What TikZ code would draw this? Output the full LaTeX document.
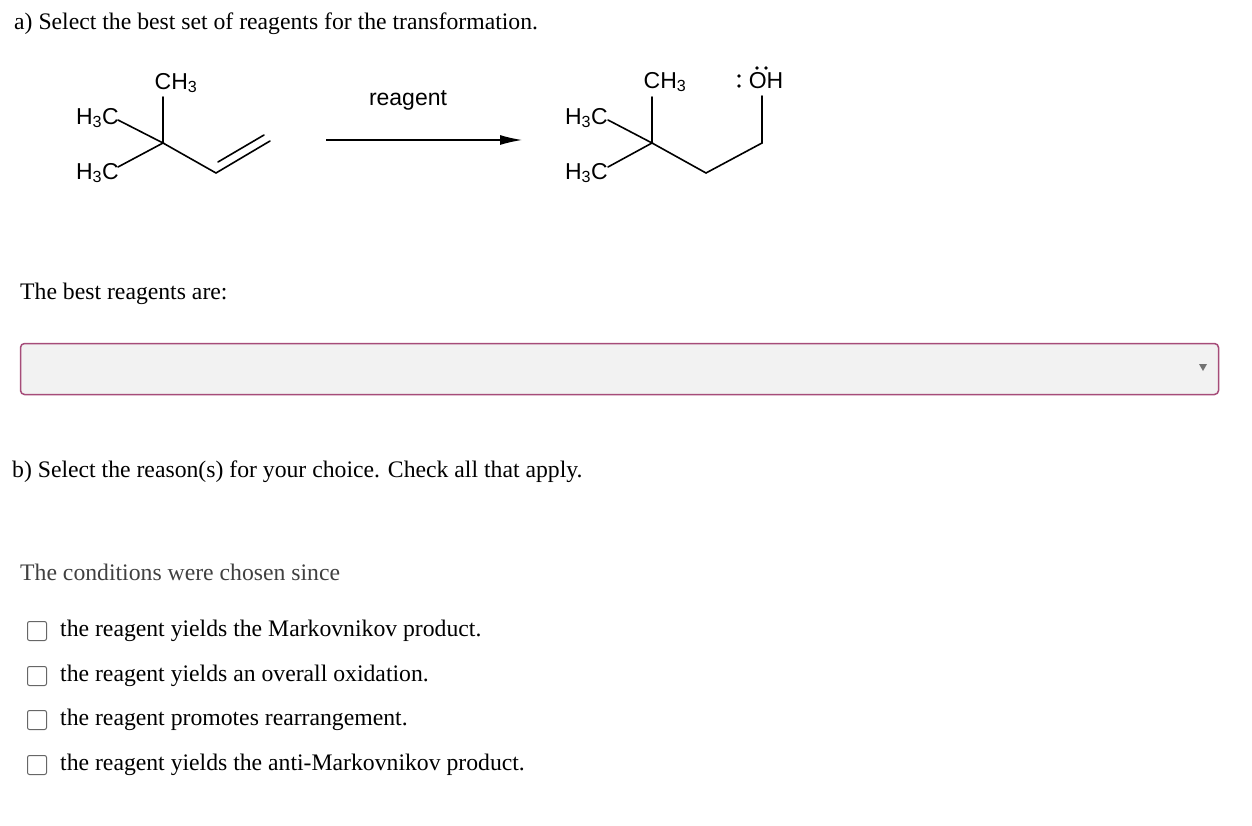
\documentclass[tikz,border=0pt]{standalone}
\usepackage{fontspec}
\usetikzlibrary{arrows.meta}
\setmainfont{Liberation Serif}
\newfontfamily\chemf{Liberation Sans}
\begin{document}
\begin{tikzpicture}[x=1pt,y=-1pt,
 txt/.style={anchor=west,inner sep=0,font=\fontsize{23.7}{26}\selectfont},
 gtxt/.style={txt,text=black!75},
 chem/.style={inner sep=0,font=\chemf\fontsize{23}{25}\selectfont},
 bond/.style={line width=1.6pt,line cap=round},
 cbox/.style={draw=black!60,line width=1pt,rounded corners=2pt,minimum size=19pt,inner sep=0}]
\useasboundingbox (0,0) rectangle (1252,826);
\node[txt] (qa) at (14,24) {a) Select the best set of reagents for the transformation.};
% reactant
\coordinate (c1) at (163,143);
\coordinate (c2) at (216,173);
\coordinate (c3) at (270,141);
\node[chem,anchor=east] (m1) at (119,118) {H\textsubscript{3}C};
\node[chem,anchor=east] (m2) at (119,173) {H\textsubscript{3}C};
\node[chem] (m3) at (176,83) {CH\textsubscript{3}};
\draw[bond] (118,120) -- (c1) -- (118,167);
\draw[bond] (c1) -- (163,97);
\draw[bond] (c1) -- (c2) -- (c3);
\draw[bond] (218,162) -- (264,135);
% arrow
\node[chem] (rg) at (408,100) {reagent};
\coordinate (a1) at (326,140);
\coordinate (a2) at (522,140);
\draw[line width=1.2pt,-{Latex[length=22pt,width=10pt]}] (a1) -- (a2);
% product
\coordinate (p1) at (652,143);
\coordinate (p2) at (706,173);
\coordinate (p3) at (762,143);
\node[chem,anchor=east] (n1) at (608,118) {H\textsubscript{3}C};
\node[chem,anchor=east] (n2) at (608,173) {H\textsubscript{3}C};
\node[chem] (n3) at (665,82) {CH\textsubscript{3}};
\node[chem] (oh) at (766,81) {OH};
\fill (739,76) circle (1.8pt) (739,86) circle (1.8pt) (757,68) circle (1.8pt) (766,68) circle (1.8pt);
\draw[bond] (608,120) -- (p1) -- (608,167);
\draw[bond] (p1) -- (652,97);
\draw[bond] (p1) -- (p2) -- (p3) -- (762,96);
\node[txt] (best) at (20,294) {The best reagents are:};
\node[draw=black!50!blue!50!red!70,line width=1.5pt,fill=black!5,rounded corners=4pt,minimum width=1198pt,minimum height=51pt,inner sep=0] (dd) at (619.5,369) {};
\fill[black!55] (1199,364) -- (1207,364) -- (1203,371) -- cycle;
\node[txt] (qb) at (12,472) {b) Select the reason(s) for your choice. Check all that apply.};
\node[gtxt] (cond) at (20,572) {The conditions were chosen since};
\foreach \y/\t [count=\i] in {631/the reagent yields the Markovnikov product.,676/the reagent yields an overall oxidation.,720/the reagent promotes rearrangement.,765/the reagent yields the anti-Markovnikov product.}{
 \node[cbox] (b\i) at (37,\y) {};
 \node[txt] (t\i) at (60,\y) {\t};
}
\end{tikzpicture}
\end{document}
